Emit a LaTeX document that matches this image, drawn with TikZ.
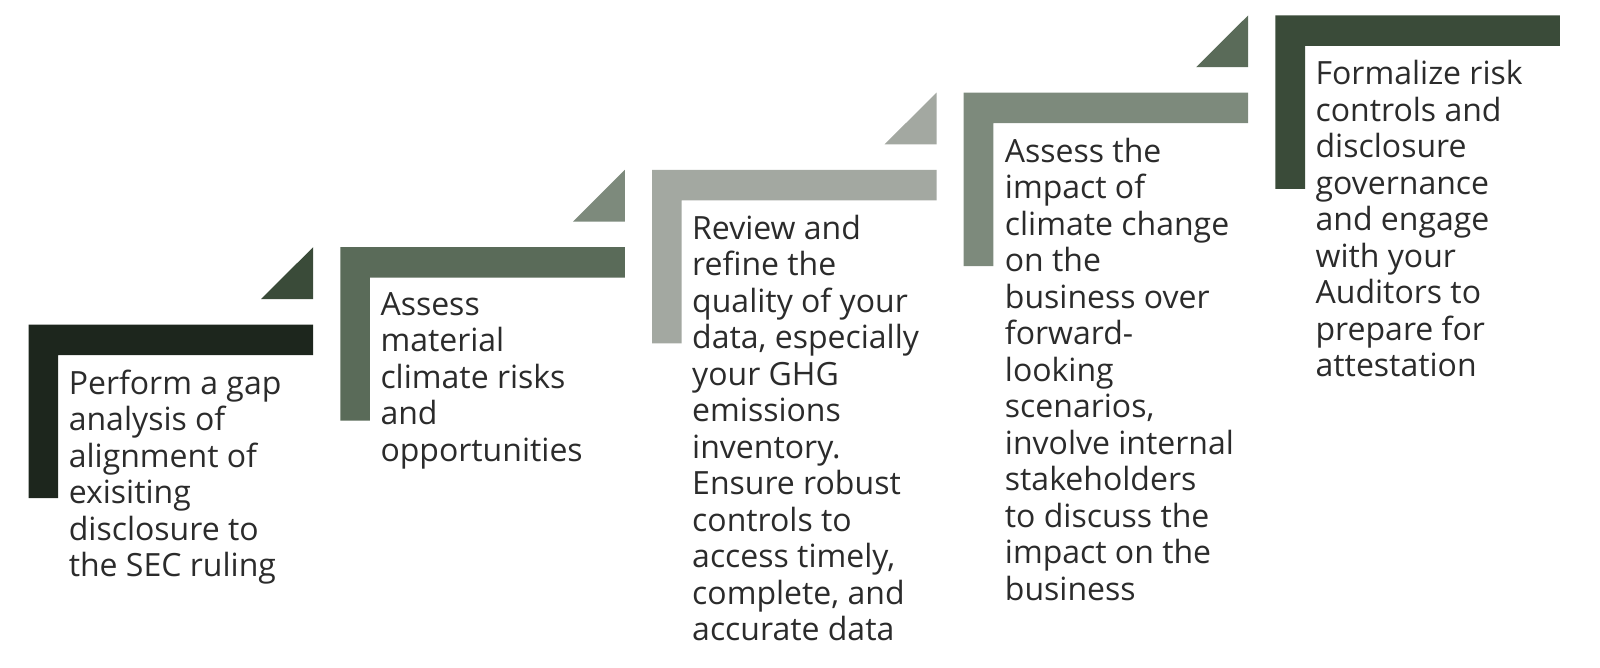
\documentclass[tikz,border=0pt]{standalone}
\usepackage{fontspec}
\setmainfont{Open Sans}
\definecolor{cA}{HTML}{1D261D}
\definecolor{cB}{HTML}{5A6B59}
\definecolor{cC}{HTML}{A3A8A1}
\definecolor{cD}{HTML}{7D8A7C}
\definecolor{cE}{HTML}{3A4B39}
\definecolor{txt}{HTML}{2B2B2B}
\begin{document}
\begin{tikzpicture}[x=1pt,y=-1pt,
  steptext/.style={anchor=north west,inner sep=0pt,align=left,text=txt,
    font=\fontsize{32}{36.5}\selectfont}]
\useasboundingbox (0,0) rectangle (1600,667);
% step L-shapes: (x0,y0,colour)
\foreach \x/\y/\c in {28.6/324.5/cA,340.3/247.2/cB,652/169.9/cC,963.7/92.6/cD,1275.4/15.3/cE}{
  \fill[\c] (\x,\y) -- ++(284.5,0) -- ++(0,30.5) -- ++(-254.9,0) -- ++(0,143) -- ++(-29.6,0) -- cycle;
}
% triangles: right edge at step bar end, colour
\foreach \x/\y/\c in {28.6/324.5/cE,340.3/247.2/cD,652/169.9/cC,963.7/92.6/cB}{
  \fill[\c] (\x+232.5,\y-25.5) -- (\x+284.5,\y-25.5) -- (\x+284.5,\y-77.3) -- cycle;
}
\node[steptext] (t1) at (68.6,369.5) {Perform a gap\\analysis of\\alignment of\\exisiting\\disclosure to\\the SEC ruling};
\node[steptext] (t2) at (380.3,292.2) {Assess\\material\\climate risks\\and\\opportunities};
\node[steptext] (t3) at (692,214.9) {Review and\\refine the\\quality of your\\data, especially\\your GHG\\emissions\\inventory.\\Ensure robust\\controls to\\access timely,\\complete, and\\accurate data};
\node[steptext] (t4) at (1004.7,137.6) {Assess the\\impact of\\climate change\\on the\\business over\\forward-\\looking\\scenarios,\\involve internal\\stakeholders\\to discuss the\\impact on the\\business};
\node[steptext] (t5) at (1315.4,60.3) {Formalize risk\\controls and\\disclosure\\governance\\and engage\\with your\\Auditors to\\prepare for\\attestation};
\end{tikzpicture}
\end{document}
